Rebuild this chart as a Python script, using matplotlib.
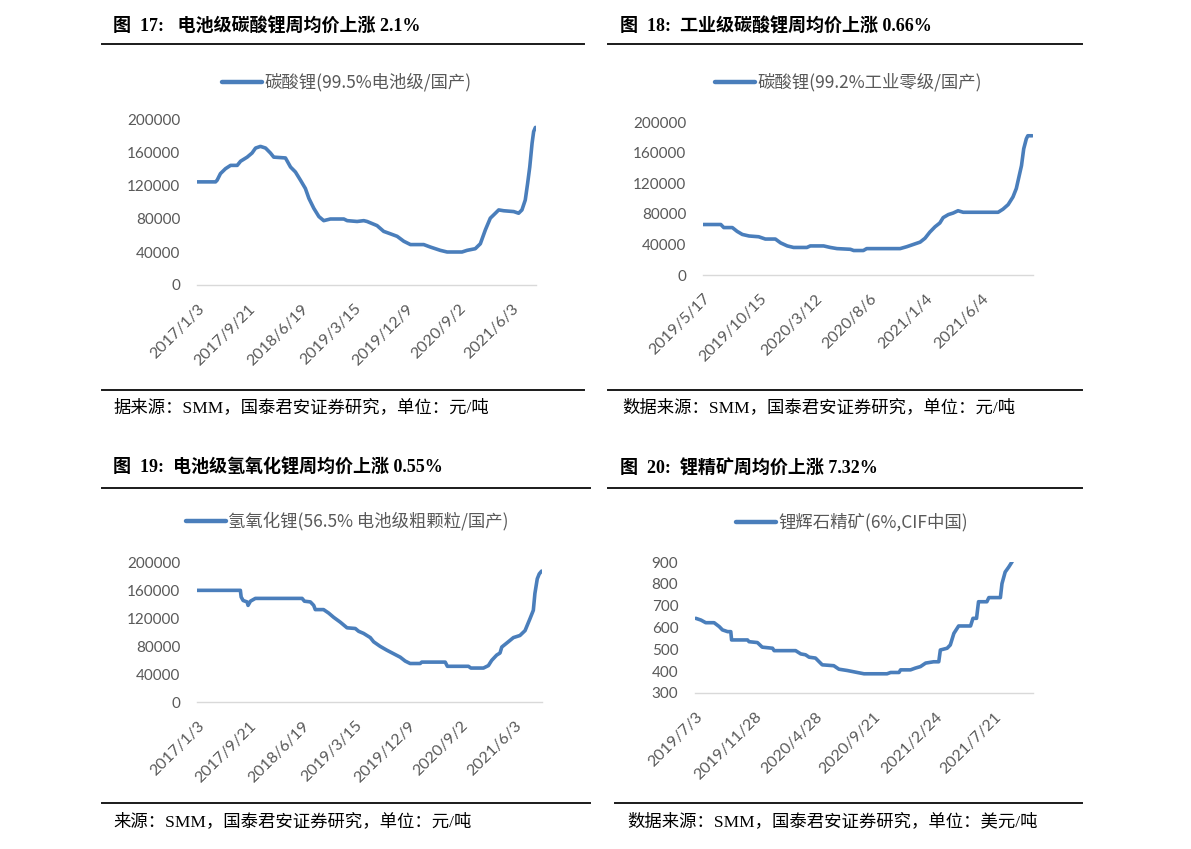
import pandas as pd
import matplotlib
matplotlib.use("Agg")
import matplotlib.pyplot as plt
from matplotlib.lines import Line2D

W, H = 1191, 849
BLUE = "#4A7EBB"
GREY = "#595959"
CJK = ["Noto Sans CJK SC", "DejaVu Sans"]
SERIF = ["Liberation Serif", "Noto Sans CJK SC"]
NUM = ["Lato", "DejaVu Sans"]

# ---- data ----
# 图17 电池级碳酸锂 (元/吨)
p1_dates = ["2017-01-03", "2017-04-07", "2017-04-15", "2017-05-02", "2017-05-28", "2017-06-23",
            "2017-07-27", "2017-08-13", "2017-09-16", "2017-10-11", "2017-10-29", "2017-11-23",
            "2017-12-19", "2018-01-13", "2018-01-30", "2018-03-31", "2018-04-26", "2018-05-21",
            "2018-06-16", "2018-07-11", "2018-07-29", "2018-08-23", "2018-09-18", "2018-10-13",
            "2018-11-16", "2019-01-24", "2019-02-10", "2019-04-02", "2019-05-06", "2019-05-23",
            "2019-07-13", "2019-08-16", "2019-09-20", "2019-10-24", "2019-11-27", "2019-12-31",
            "2020-03-08", "2020-04-11", "2020-06-01", "2020-07-06", "2020-09-20", "2020-10-16",
            "2020-11-27", "2020-12-23", "2021-01-18", "2021-02-12", "2021-03-10", "2021-03-27",
            "2021-04-22", "2021-06-12", "2021-07-07", "2021-07-24", "2021-08-10", "2021-08-22",
            "2021-09-02", "2021-09-14", "2021-09-22", "2021-10-01"]
p1_values = [125000, 125000, 127000, 135000, 141000, 145000,
             145000, 150000, 155000, 160000, 166000, 168000,
             166000, 160000, 155000, 154000, 143000, 137000,
             127000, 117000, 105000, 93000, 83000, 78000,
             80000, 80000, 78000, 77000, 78000, 77000,
             72000, 65000, 62000, 59000, 53000, 49000,
             49000, 46000, 42000, 40000, 40000, 42000,
             44000, 50000, 67000, 81000, 87000, 91000,
             90000, 89000, 87000, 91000, 103000, 123000,
             143000, 172000, 186000, 191000]
p1_ticks = ["2017/1/3", "2017/9/21", "2018/6/19", "2019/3/15", "2019/12/9", "2020/9/2", "2021/6/3"]

# 图18 工业级碳酸锂 (元/吨)
p2_dates = ["2019-05-17", "2019-07-03", "2019-07-11", "2019-08-03", "2019-08-16", "2019-08-30",
            "2019-09-17", "2019-10-13", "2019-10-31", "2019-11-27", "2019-12-11", "2019-12-29",
            "2020-01-15", "2020-02-20", "2020-02-29", "2020-04-05", "2020-04-23", "2020-05-11",
            "2020-06-16", "2020-06-25", "2020-07-21", "2020-07-30", "2020-10-28", "2020-11-15",
            "2020-12-03", "2020-12-21", "2021-01-03", "2021-01-16", "2021-01-30", "2021-02-12",
            "2021-02-21", "2021-03-07", "2021-03-20", "2021-04-02", "2021-04-16", "2021-07-19",
            "2021-08-01", "2021-08-15", "2021-08-28", "2021-09-06", "2021-09-13", "2021-09-20",
            "2021-09-26", "2021-10-03", "2021-10-07", "2021-10-19"]
p2_values = [66000, 66000, 62000, 62000, 57000, 53000,
             51000, 50000, 47000, 47000, 42000, 38000,
             36000, 36000, 38000, 38000, 36000, 34500,
             33600, 32000, 32000, 34500, 34500, 37000,
             40000, 43000, 48000, 56000, 63000, 68000,
             75000, 79000, 81000, 84000, 82000, 82000,
             86000, 92000, 102000, 113000, 128000, 143000,
             165000, 178000, 182000, 182000]
p2_ticks = ["2019/5/17", "2019/10/15", "2020/3/12", "2020/8/6", "2021/1/4", "2021/6/4"]

# 图19 电池级氢氧化锂 (元/吨)
p3_dates = ["2017-01-03", "2017-08-10", "2017-08-14", "2017-08-24", "2017-09-13", "2017-09-18",
            "2017-09-30", "2017-10-25", "2018-06-19", "2018-07-01", "2018-07-31", "2018-08-17",
            "2018-08-25", "2018-10-06", "2018-11-01", "2018-11-26", "2018-12-30", "2019-02-02",
            "2019-03-16", "2019-04-02", "2019-04-27", "2019-05-31", "2019-06-17", "2019-07-20",
            "2019-08-23", "2019-09-26", "2019-10-30", "2019-11-24", "2019-12-19", "2020-02-08",
            "2020-02-16", "2020-06-14", "2020-06-25", "2020-10-10", "2020-10-22", "2020-12-25",
            "2021-01-19", "2021-02-05", "2021-03-02", "2021-03-19", "2021-03-28", "2021-04-30",
            "2021-05-26", "2021-06-28", "2021-07-24", "2021-08-18", "2021-09-04", "2021-09-12",
            "2021-09-24", "2021-10-04", "2021-10-16"]
p3_values = [159500, 159500, 150000, 145000, 143000, 138000,
             144000, 148000, 148000, 144000, 143000, 138000,
             132000, 132000, 127000, 121000, 114000, 106000,
             105000, 101000, 98000, 92000, 86000, 79500,
             74000, 69000, 64000, 58500, 55000, 55000,
             57000, 57000, 51000, 51000, 48500, 48500,
             52000, 59500, 67000, 70000, 78500, 86000,
             92000, 95000, 102000, 119000, 131000, 155000,
             176000, 183000, 187000]
p3_ticks = p1_ticks

# 图20 锂辉石精矿 (美元/吨)
p4_dates = ["2019-07-03", "2019-07-16", "2019-07-28", "2019-08-18", "2019-08-31", "2019-09-08",
            "2019-09-21", "2019-09-29", "2019-10-01", "2019-11-10", "2019-11-14", "2019-12-05",
            "2019-12-17", "2020-01-12", "2020-01-16", "2020-03-10", "2020-03-23", "2020-04-04",
            "2020-04-13", "2020-04-29", "2020-05-16", "2020-06-14", "2020-06-27", "2020-07-18",
            "2020-08-12", "2020-08-29", "2020-10-26", "2020-11-04", "2020-11-25", "2020-11-29",
            "2020-12-24", "2021-01-05", "2021-01-18", "2021-01-31", "2021-02-20", "2021-03-05",
            "2021-03-09", "2021-03-26", "2021-04-03", "2021-04-12", "2021-04-24", "2021-05-24",
            "2021-05-30", "2021-06-08", "2021-06-13", "2021-07-04", "2021-07-09", "2021-08-07",
            "2021-08-11", "2021-08-19", "2021-08-28", "2021-09-05", "2021-09-09"]
p4_values = [642, 634, 622, 622, 604, 589,
             581, 581, 543, 543, 535, 531,
             510, 505, 494, 494, 479, 475,
             464, 460, 429, 425, 409, 403,
             394, 388, 388, 394, 394, 406,
             406, 414, 421, 437, 443, 443,
             497, 505, 520, 573, 607, 607,
             642, 642, 718, 718, 737, 737,
             801, 854, 877, 900, 915]
p4_ticks = ["2019/7/3", "2019/11/28", "2020/4/28", "2020/9/21", "2021/2/24", "2021/7/21"]


def fx(x):
    return x / W


def fy(y):
    return 1 - y / H


fig = plt.figure(figsize=(W / 100, H / 100), dpi=100)


def hline(y, x0, x1):
    fig.add_artist(Line2D([fx(x0), fx(x1)], [fy(y), fy(y)], transform=fig.transFigure,
                          color="#1a1a1a", lw=1.4))


def panel(box, dates, values, ticks, xlim, ylim, yticks, legend_text, legend_x, legend_y):
    x0, x1, ytop, ybot = box
    ax = fig.add_axes([fx(x0), fy(ybot), fx(x1 - x0), (ybot - ytop) / H])
    ax.plot(pd.to_datetime(dates), values, color=BLUE, lw=2.6, solid_capstyle="round",
            solid_joinstyle="round")
    ax.set_xlim(pd.to_datetime(xlim[0]), pd.to_datetime(xlim[1]))
    ax.set_ylim(*ylim)
    ax.set_yticks(yticks)
    ax.set_yticklabels([str(v) for v in yticks], fontsize=11, color=GREY, family=NUM)
    ax.set_xticks(pd.to_datetime(ticks, format="%Y/%m/%d"))
    ax.set_xticklabels(ticks, rotation=45, ha="right", va="top", rotation_mode="anchor",
                       fontsize=11.5, color=GREY, family=NUM)
    ax.tick_params(length=0, axis="y", pad=12)
    ax.tick_params(length=0, axis="x", pad=12)
    for s in ["top", "right", "left"]:
        ax.spines[s].set_visible(False)
    ax.spines["bottom"].set_color("#D9D9D9")
    ax.spines["bottom"].set_linewidth(1.0)
    ax.patch.set_alpha(0)
    # legend
    fig.add_artist(Line2D([fx(legend_x), fx(legend_x + 40)], [fy(legend_y), fy(legend_y)],
                          transform=fig.transFigure, color=BLUE, lw=3.2, solid_capstyle="round"))
    fig.text(fx(legend_x + 42), fy(legend_y), legend_text, fontsize=12.5, color=GREY,
             family=CJK, va="center", ha="left")
    return ax


# titles and rules
TSIZE = 13
fig.text(fx(113), fy(27), "图  17:   电池级碳酸锂周均价上涨 2.1%", fontsize=TSIZE, fontweight="bold",
         family=SERIF, va="center")
fig.text(fx(620), fy(27), "图  18:  工业级碳酸锂周均价上涨 0.66%", fontsize=TSIZE, fontweight="bold",
         family=SERIF, va="center")
fig.text(fx(113), fy(468), "图  19:  电池级氢氧化锂周均价上涨 0.55%", fontsize=TSIZE, fontweight="bold",
         family=SERIF, va="center")
fig.text(fx(620), fy(468), "图  20:  锂精矿周均价上涨 7.32%", fontsize=TSIZE, fontweight="bold",
         family=SERIF, va="center")
hline(44, 102, 584)
hline(44, 608, 1082)
hline(488, 102, 590)
hline(488, 608, 1082)
hline(390, 102, 584)
hline(390, 608, 1082)
hline(803, 102, 590)
hline(803, 615, 1082)

SSIZE = 12.5
fig.text(fx(113), fy(408), "据来源：SMM，国泰君安证券研究，单位：元/吨", fontsize=SSIZE,
         family=SERIF, va="center")
fig.text(fx(622), fy(408), "数据来源：SMM，国泰君安证券研究，单位：元/吨", fontsize=SSIZE,
         family=SERIF, va="center")
fig.text(fx(113), fy(822), "来源：SMM，国泰君安证券研究，单位：元/吨", fontsize=SSIZE,
         family=SERIF, va="center")
fig.text(fx(627), fy(822), "数据来源：SMM，国泰君安证券研究，单位：美元/吨", fontsize=SSIZE,
         family=SERIF, va="center")

panel((197, 536, 120, 285), p1_dates, p1_values, p1_ticks, ("2017-01-02", "2021-10-04"),
      (0, 200000), [0, 40000, 80000, 120000, 160000, 200000],
      "碳酸锂(99.5%电池级/国产)", 222, 82)
panel((703, 1033, 122, 275), p2_dates, p2_values, p2_ticks, ("2019-05-16", "2021-10-21"),
      (0, 200000), [0, 40000, 80000, 120000, 160000, 200000],
      "碳酸锂(99.2%工业零级/国产)", 715, 82)
panel((197, 542, 562, 702), p3_dates, p3_values, p3_ticks, ("2017-01-02", "2021-10-18"),
      (0, 200000), [0, 40000, 80000, 120000, 160000, 200000],
      "氢氧化锂(56.5% 电池级粗颗粒/国产)", 186, 521)
panel((695, 1033, 562, 693), p4_dates, p4_values, p4_ticks, ("2019-07-01", "2021-10-28"),
      (300, 900), [300, 400, 500, 600, 700, 800, 900],
      "锂辉石精矿(6%,CIF中国)", 736, 522)

fig.savefig("out.png", dpi=100)
